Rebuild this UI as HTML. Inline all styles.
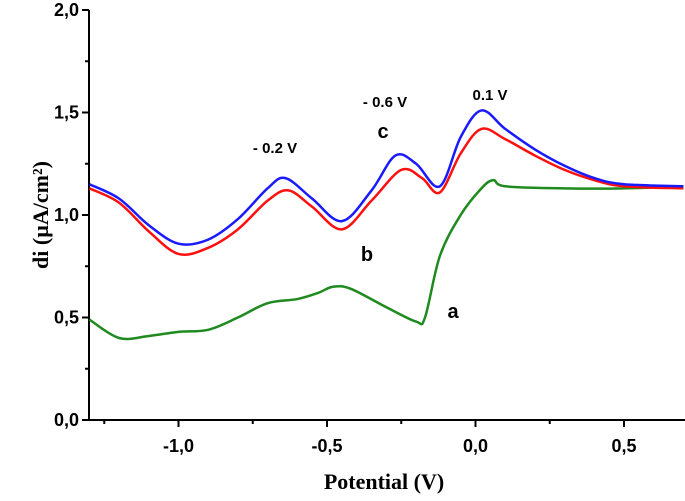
<!DOCTYPE html>
<html><head><meta charset="utf-8"><style>
body{margin:0;background:#fff;width:685px;height:496px;overflow:hidden}
svg text{font-family:"Liberation Sans",Arial,sans-serif;font-weight:bold}
svg text.serif{font-family:"Liberation Serif","Times New Roman",serif}
</style></head><body>
<svg id="chart" width="685" height="496" xmlns="http://www.w3.org/2000/svg">
<g id="axes"></g><g id="series"></g>
<text x="275" y="153" font-size="15" text-anchor="middle">- 0.2 V</text>
<text x="385" y="107" font-size="15" text-anchor="middle">- 0.6 V</text>
<text x="490" y="100" font-size="15" text-anchor="middle">0.1 V</text>
<text x="383" y="138" font-size="20" text-anchor="middle">c</text>
<text x="367" y="261" font-size="20" text-anchor="middle">b</text>
<text x="453" y="318" font-size="20" text-anchor="middle">a</text>
<text class="serif" x="384" y="489" font-size="22" text-anchor="middle">Potential (V)</text>
<text class="serif" transform="translate(48,215) rotate(-90)" font-size="22" text-anchor="middle">di (µA/cm²)</text>
</svg>
<script>
const yTicks=[0,0.5,1.0,1.5,2.0];
const yTickLabels=["0,0","0,5","1,0","1,5","2,0"];
const xTicks=[-1.0,-0.5,0.0,0.5];
const xTickLabels=["-1,0","-0,5","0,0","0,5"];
const blueX=[-1.3,-1.2,-1.1,-1.0,-0.9,-0.8,-0.7,-0.64,-0.55,-0.45,-0.35,-0.27,-0.2,-0.12,-0.05,0.02,0.1,0.2,0.3,0.4,0.5,0.7];
const blueY=[1.15,1.08,0.95,0.86,0.88,0.98,1.13,1.18,1.08,0.97,1.12,1.29,1.25,1.14,1.38,1.51,1.42,1.32,1.24,1.18,1.15,1.14];
const redX=[-1.3,-1.2,-1.1,-1.0,-0.9,-0.8,-0.7,-0.63,-0.55,-0.45,-0.35,-0.25,-0.18,-0.12,-0.05,0.02,0.1,0.2,0.3,0.4,0.5,0.7];
const redY=[1.13,1.06,0.92,0.81,0.84,0.93,1.07,1.12,1.04,0.93,1.07,1.22,1.18,1.11,1.30,1.42,1.37,1.29,1.22,1.17,1.14,1.13];
const greenX=[-1.3,-1.2,-1.1,-1.0,-0.9,-0.8,-0.7,-0.6,-0.53,-0.48,-0.42,-0.3,-0.2,-0.17,-0.12,-0.05,0.02,0.06,0.1,0.3,0.5,0.7];
const greenY=[0.49,0.40,0.41,0.43,0.44,0.50,0.57,0.59,0.62,0.65,0.64,0.55,0.48,0.50,0.80,1.0,1.13,1.17,1.14,1.13,1.13,1.14];
const NS="http://www.w3.org/2000/svg";
const X0=89,X1=685,Y0=420,Y1=10;
function sx(v){return 475.5+v*297;}
function sy(v){return 420-v*205;}
function mk(tag,attrs,parent){const e=document.createElementNS(NS,tag);for(const k in attrs)e.setAttribute(k,attrs[k]);parent.appendChild(e);return e;}
const ax=document.getElementById('axes');
let l=mk('line',{x1:X0,y1:Y1,x2:X0,y2:Y0+1,stroke:'#000','stroke-width':2},ax);


l=mk('line',{x1:X0-1,y1:Y0,x2:X1,y2:Y0,stroke:'#000','stroke-width':2},ax);


yTicks.forEach((v,i)=>{
  mk('line',{x1:X0-7,y1:sy(v),x2:X0,y2:sy(v),stroke:'#000','stroke-width':2},ax);
  if(i<yTicks.length-1) mk('line',{x1:X0-4,y1:sy(v+0.25),x2:X0,y2:sy(v+0.25),stroke:'#000','stroke-width':2},ax);
  const t=mk('text',{x:X0-10,y:sy(v)+6,'font-size':18,'text-anchor':'end'},ax);t.textContent=yTickLabels[i];
  
  
});
[-1.25,-0.75,-0.25,0.25].forEach(v=>mk('line',{x1:sx(v),y1:Y0,x2:sx(v),y2:Y0+4,stroke:'#000','stroke-width':2},ax));
xTicks.forEach((v,i)=>{
  mk('line',{x1:sx(v),y1:Y0,x2:sx(v),y2:Y0+7,stroke:'#000','stroke-width':2},ax);
  const t=mk('text',{x:sx(v),y:Y0+32,'font-size':18,'text-anchor':'middle'},ax);t.textContent=xTickLabels[i];
  
  
});
const sg=document.getElementById('series');
function path(xs,ys){
  const p=xs.map((x,i)=>[sx(x),sy(ys[i])]);
  let d='M'+p[0][0]+','+p[0][1];
  for(let i=0;i<p.length-1;i++){
    const p0=p[i-1]||p[i],p1=p[i],p2=p[i+1],p3=p[i+2]||p2;
    const c1=[p1[0]+(p2[0]-p0[0])/6,p1[1]+(p2[1]-p0[1])/6];
    const c2=[p2[0]-(p3[0]-p1[0])/6,p2[1]-(p3[1]-p1[1])/6];
    d+=' C'+c1+' '+c2+' '+p2;
  }
  return d;
}
let s=mk('path',{d:path(greenX,greenY),fill:'none',stroke:'#1f8a1f','stroke-width':2.5},sg);


s=mk('path',{d:path(redX,redY),fill:'none',stroke:'#ff1010','stroke-width':2.5},sg);


s=mk('path',{d:path(blueX,blueY),fill:'none',stroke:'#1a1aff','stroke-width':2.5},sg);


</script>
</body></html>
